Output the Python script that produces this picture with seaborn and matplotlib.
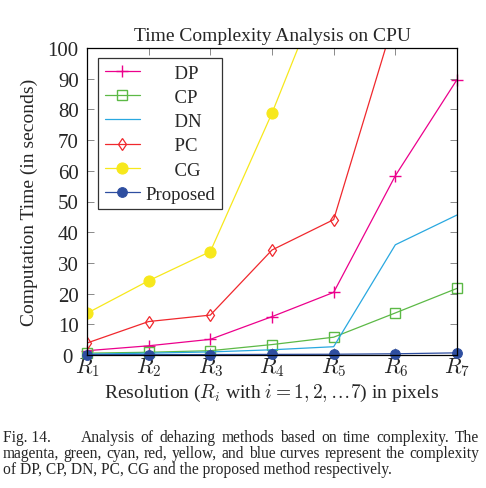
import numpy as np
import pandas as pd
import matplotlib
matplotlib.use('Agg')
import matplotlib.pyplot as plt
import matplotlib.transforms as mtransforms
import seaborn as sns

# resolution index R1..R7
res = [1, 2, 3, 4, 5, 6, 7]
res_labels = ['$R_1$', '$R_2$', '$R_3$', '$R_4$', '$R_5$', '$R_6$', '$R_7$']

# computation time (seconds)
dp = [1.4, 3.0, 5.1, 12.5, 20.4, 58.4, 89.7]
cp = [0.6, 0.9, 1.4, 3.4, 5.8, 13.7, 21.7]
dn = [0.3, 0.6, 1.0, 1.7, 2.7, 35.9, 45.6]
pc = [3.9, 10.9, 13.0, 34.2, 44.1, 110.5, 160.0]
cg = [13.6, 24.2, 33.7, 78.8, 129.0, 180.0, 230.0]
proposed = [0.1, 0.1, 0.15, 0.2, 0.25, 0.4, 0.7]

sns.set_style('ticks')
plt.rcParams['font.family'] = ['Liberation Serif', 'DejaVu Serif']
plt.rcParams['mathtext.fontset'] = 'cm'

fig = plt.figure(figsize=(4.86, 4.89), dpi=100)
ax = fig.add_axes([87/486, 1-356/489, 370/486, 307/489])

c_dp, c_cp, c_dn = '#ec008c', '#5cb946', '#29a8e0'
c_pc, c_cg, c_pr = '#f0282d', '#f7e81c', '#2e4ea0'

sns.lineplot(x=res, y=dp, ax=ax, color=c_dp, lw=0.9, marker='+', ms=9, mew=1.0, mec=c_dp,
             label='DP', clip_on=False)
sns.lineplot(x=res, y=cp, ax=ax, color=c_cp, lw=0.9, marker='s', ms=7, mfc='none', mec=c_cp,
             mew=1.0, label='CP', clip_on=False)
sns.lineplot(x=res, y=dn, ax=ax, color=c_dn, lw=0.9, label='DN', clip_on=False)
sns.lineplot(x=res, y=pc, ax=ax, color=c_pc, lw=0.9, marker='d', ms=6.5, mfc='none', mec=c_pc,
             mew=0.9, label='PC')
sns.lineplot(x=res, y=cg, ax=ax, color=c_cg, lw=0.9, marker='o', ms=8, mec=c_cg,
             label='CG')
sns.lineplot(x=res, y=proposed, ax=ax, color=c_pr, lw=0.9, marker='o', ms=7, mec=c_pr,
             label='Proposed', clip_on=False)

ax.set_xlim(1, 7)
ax.set_ylim(0, 100)
ax.set_xticks(res)
ax.set_xticklabels(res_labels, fontsize=15.5)
ax.set_yticks(np.arange(0, 101, 10))
ax.tick_params(axis='both', direction='in', top=True, right=True, length=5, width=0.6,
               color='#777777')
ax.tick_params(axis='y', labelsize=15, pad=6)
ax.tick_params(axis='x', pad=0)
for s in ax.spines.values():
    s.set_linewidth(0.9)
    s.set_color('black')

# nudge the "0" label left so it clears R1
zero_lbl = ax.get_yticklabels()[0]
zero_lbl.set_transform(zero_lbl.get_transform() +
                       mtransforms.ScaledTranslation(-6/100, 0, fig.dpi_scale_trans))

ax.set_title('Time Complexity Analysis on CPU', fontsize=14, pad=6)
ax.set_ylabel('Computation Time (in seconds)', fontsize=14, labelpad=7)
ax.set_xlabel('Resolution ($R_i$ with $i=1,2,\\ldots 7$) in pixels', fontsize=14, labelpad=3)

handles, labels = ax.get_legend_handles_labels()
pad_labels = ['      DP', '      CP', '      DN', '      PC', '      CG', 'Proposed']
leg = ax.legend(handles, pad_labels, loc='upper left', bbox_to_anchor=(0.03, 0.968),
                fontsize=13.5, frameon=True, fancybox=False, edgecolor='black',
                handlelength=1.9, handletextpad=0.3, borderpad=0.35, labelspacing=0.38,
                borderaxespad=0)
leg.get_frame().set_linewidth(0.9)

# caption, justified for the first two lines
lines = [
    'Fig. 14.    Analysis of dehazing methods based on time complexity. The',
    'magenta, green, cyan, red, yellow, and blue curves represent the complexity',
    'of DP, CP, DN, PC, CG and the proposed method respectively.',
]
x0, x1 = 3/486, 479/486
ys = [1-438/489, 1-454/489, 1-470/489]
renderer = fig.canvas.get_renderer()

# pick the caption size so that line 2 fills the width with normal spacing
probe = fig.text(0, 0, lines[1], fontsize=10)
w_probe = probe.get_window_extent(renderer).width / fig.bbox.width
probe.remove()
cap_fs = 10 * (x1 - x0) / w_probe * 0.99

for i, line in enumerate(lines):
    if i < 2:
        words = [w for w in line.split(' ') if w]
        if i == 0:
            words = ['Fig. 14.'] + words[2:]
        txts = [fig.text(0, ys[i], w, fontsize=cap_fs, va='center', ha='left') for w in words]
        widths = [t.get_window_extent(renderer).width / fig.bbox.width for t in txts]
        gaps = len(words) - 1
        extra = (x1 - x0) - sum(widths)
        if i == 0:
            gap = extra / (gaps + 4)
            gap_list = [gap * 5] + [gap] * (gaps - 1)
        else:
            gap_list = [extra / gaps] * gaps
        x = x0
        for j, t in enumerate(txts):
            t.set_x(x)
            x += widths[j] + (gap_list[j] if j < gaps else 0)
    else:
        fig.text(x0, ys[i], line, fontsize=cap_fs, va='center', ha='left')

fig.savefig('out.png', dpi=100)
